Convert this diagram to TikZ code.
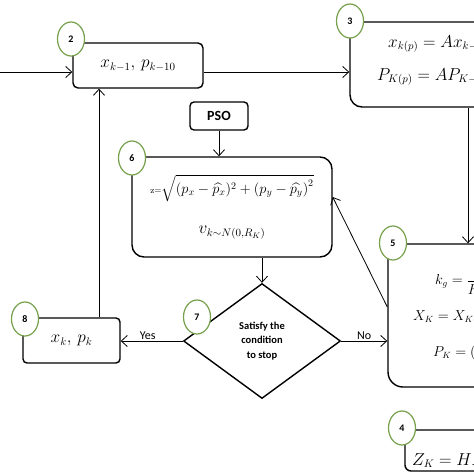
\documentclass[tikz,border=0pt]{standalone}
\usepackage{amsmath}
\usepackage{fontspec}
\newfontfamily\calfont{Carlito}
\usetikzlibrary{shapes.geometric,arrows.meta}
\definecolor{stepgreen}{RGB}{118,160,75}

\tikzset{
  box/.style={draw, line width=1.4pt, rounded corners=#1, inner sep=0pt},
  box/.default=5pt,
  num/.style={draw=stepgreen, line width=1.2pt, fill=white, ellipse,
    minimum width=27pt, minimum height=34pt, inner sep=0pt,
    font=\calfont\bfseries\fontsize{10}{10}\selectfont},
  arr/.style={-{Straight Barb[length=6pt,width=11pt]}, line width=0.8pt},
  eq/.style={font=\fontsize{16}{19}\selectfont, inner sep=0pt},
  eqs/.style={font=\fontsize{13.5}{16}\selectfont, inner sep=0pt},
  lbl/.style={font=\calfont\fontsize{12}{12}\selectfont, inner sep=1pt},
}

\begin{document}
\begin{tikzpicture}[x=1pt, y=-1pt]
  \useasboundingbox (0,0) rectangle (474,474);
  \clip (0,0) rectangle (474,474);

  % boxes
  \node[box, minimum width=130pt, minimum height=45pt, eq] (b2) at (138,65.5)
    {$x_{k-1},\, p_{k-10}$};
  \node[box=12pt, minimum width=250pt, minimum height=85pt] (b3) at (475,64.5) {};
  \node[box=4pt, minimum width=58pt, minimum height=28pt,
    font=\calfont\bfseries\fontsize{14}{14}\selectfont] (pso) at (219,116) {PSO};
  \node[box=12pt, minimum width=200pt, minimum height=100pt, align=center] (b6) at (232,207)
    {\fontsize{14}{16}\selectfont$\text{\fontsize{9}{9}\selectfont z=}\sqrt{(p_x-\widehat{p_x})^2+\left(p_y-\widehat{p_y}\right)^2}$\\[24pt]
     \fontsize{16}{19}\selectfont$v_{k\sim N(0,R_K)}$};
  \node[draw, diamond, line width=1.4pt, minimum width=157pt, minimum height=115pt,
    inner sep=0pt, align=center, font=\calfont\bfseries\fontsize{10.5}{14.5}\selectfont]
    (d7) at (262,341) {Satisfy the\\condition\\to stop};
  \node[box=15pt, minimum width=212pt, minimum height=143pt] (b5) at (494,315.5) {};
  \node[box=4pt, minimum width=97pt, minimum height=45pt, eq] (b8) at (71.5,340.5)
    {$x_k,\, p_k$};
  \node[box=6pt, minimum width=195pt, minimum height=41pt] (b4) at (502.5,450.5) {};

  % formulas in the clipped boxes
  \node[eq, anchor=base west] (f31) at (388,47) {$x_{k(p)} = Ax_{k-1} + Bu_k$};
  \node[eq, anchor=base west] (f32) at (377,80) {$P_{K(p)} = AP_{K-1}A^T + Q$};
  \node[eqs, anchor=west] (f51) at (435,281)
    {$k_g = \dfrac{P_{K(P)}H^T}{HP_{K(P)}H^T+R}$};
  \node[eqs, anchor=base west] (f52) at (413,320) {$X_K = X_{K(P)} + k_g(Z_K - HX_{K(P)})$};
  \node[eqs, anchor=base west] (f53) at (433,356) {$P_K = (I - k_gH)P_{K(P)}$};
  \node[eq, anchor=base west] (f4) at (412,465) {$Z_K = HX_K + v_K$};

  % step numbers
  \node[num] (n2) at (71,39) {2};
  \node[num] (n3) at (350,21) {3};
  \node[num] (n4) at (402,428) {4};
  \node[num] (n5) at (393,243) {5};
  \node[num] (n6) at (132,158) {6};
  \node[num] (n7) at (197,317) {7};
  \node[num] (n8) at (25,319) {8};

  % connectors
  \coordinate (in) at (0,72);
  \coordinate (down) at (468,0);
  \coordinate (up) at (99,0);
  \coordinate (back) at (0,307);
  \coordinate (hit) at (0,197);
  \draw[arr] (in) -- (in -| b2.west);
  \draw[arr] (b2.east |- in) -- (b3.west |- in);
  \draw[arr] (b3.south -| down) -- (b5.north -| down);
  \draw[arr] (pso) -- (pso |- b6.north);
  \draw[arr] (b6.south -| d7) -- (d7.north);
  \draw[arr] (d7.west) -- (d7.west -| b8.east) node[lbl, midway, above, xshift=-4pt] (yes) {Yes};
  \draw[arr] (d7.east) -- (d7.east -| b5.west) node[lbl, midway, above] (no) {No};
  \draw[arr] (b8.north -| up) -- (b2.south -| up);
  \draw[arr] (b5.west |- back) -- (b6.east |- hit);
\end{tikzpicture}
\end{document}
